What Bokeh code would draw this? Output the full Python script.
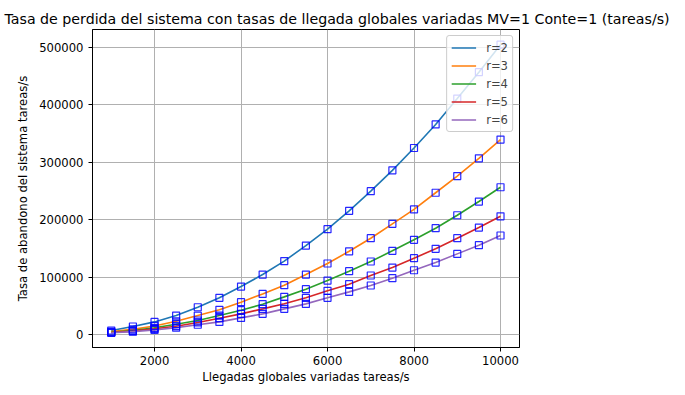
from bokeh.plotting import figure
from bokeh.models import Range1d, FixedTicker, BasicTickFormatter, Legend, LegendItem
from bokeh.embed import file_html
from bokeh.resources import INLINE

x_vals = [1000, 1500, 2000, 2500, 3000, 3500, 4000, 4500, 5000, 5500,
          6000, 6500, 7000, 7500, 8000, 8500, 9000, 9500, 10000]

r2 = [7000, 14000, 22000, 33000, 47500, 64000, 83600, 104500, 128000, 155000,
      183500, 215500, 249700, 286000, 325000, 366000, 411000, 457000, 505000]
r3 = [5000, 9000, 15000, 23000, 33000, 43000, 56300, 70800, 86000, 104500,
      123700, 145000, 167800, 192800, 218000, 247000, 276000, 307000, 339700]
r4 = [4000, 7000, 11700, 18000, 24400, 33000, 42400, 52800, 65600, 79000,
      94000, 110300, 127200, 145800, 165000, 185200, 207800, 231700, 256600]
r5 = [3500, 6000, 10000, 14500, 21000, 28500, 36000, 44700, 53500, 64000,
      76100, 87700, 102800, 116700, 133000, 149300, 167800, 186400, 206000]
r6 = [3000, 5000, 8000, 12000, 17000, 22000, 29000, 36000, 44700, 53400,
      64000, 74300, 85400, 98100, 112000, 125400, 140500, 155600, 172500]

series = [("r=2", r2, "#1f77b4"), ("r=3", r3, "#ff7f0e"), ("r=4", r4, "#2ca02c"),
          ("r=5", r5, "#d62728"), ("r=6", r6, "#9467bd")]

title_text = "Tasa de perdida del sistema con tasas de llegada globales variadas MV=1 Conte=1 (tareas/s)"
x_label = "Llegadas globales variadas tareas/s"
y_label = "Tasa de abandono del sistema tareas/s"
x_ticks = [2000, 4000, 6000, 8000, 10000]
y_ticks = [0, 100000, 200000, 300000, 400000, 500000]

FONT = "DejaVu Sans"
FS = "11.6px"

p = figure(width=685, height=395, output_backend="svg", toolbar_location=None,
           x_range=Range1d(566, 10439), y_range=Range1d(-22600, 531400),
           min_border_left=92, min_border_right=166, min_border_top=29,
           min_border_bottom=48)

p.title.text = title_text
p.title.text_font = FONT
p.title.text_font_size = "14.2px"
p.title.text_font_style = "normal"
p.title.align = "left"
p.title.offset = -88
p.title.standoff = 6
p.title.text_color = "black"

p.outline_line_color = "black"
p.outline_line_width = 1

for ax in (p.xaxis[0], p.yaxis[0]):
    ax.axis_label_text_font = FONT
    ax.axis_label_text_font_size = FS
    ax.axis_label_text_font_style = "normal"
    ax.axis_label_text_color = "black"
    ax.major_label_text_font = FONT
    ax.major_label_text_font_size = FS
    ax.major_label_text_color = "black"
    ax.minor_tick_line_color = None
    ax.major_tick_out = 4
    ax.major_tick_in = 0
    ax.major_tick_line_color = "black"
    ax.axis_line_color = "black"

p.xaxis.axis_label = x_label
p.yaxis.axis_label = y_label
p.xaxis.ticker = FixedTicker(ticks=x_ticks)
p.yaxis.ticker = FixedTicker(ticks=y_ticks)
p.yaxis.formatter = BasicTickFormatter(use_scientific=False)
p.xaxis.axis_label_standoff = 2
p.yaxis.axis_label_standoff = 6
p.xaxis.major_label_standoff = 4
p.yaxis.major_label_standoff = 5

p.xgrid.grid_line_color = "#b0b0b0"
p.ygrid.grid_line_color = "#b0b0b0"
p.xgrid.grid_line_width = 1
p.ygrid.grid_line_width = 1
p.xgrid.ticker = FixedTicker(ticks=x_ticks)
p.ygrid.ticker = FixedTicker(ticks=y_ticks)

items = []
for name, vals, color in series:
    ln = p.line(x_vals, vals, line_color=color, line_width=1.6)
    items.append(LegendItem(label=name, renderers=[ln]))
for name, vals, color in series:
    p.scatter(x_vals, vals, marker="square", size=7, fill_color=None,
              line_color="blue", line_width=1.2, line_alpha=0.85)

legend = Legend(items=items, location="top_right")
legend.label_text_font = FONT
legend.label_text_font_size = FS
legend.background_fill_color = "white"
legend.background_fill_alpha = 0.8
legend.border_line_color = "#cccccc"
legend.border_line_alpha = 1
legend.border_radius = 3
legend.glyph_width = 25
legend.glyph_height = 15
legend.spacing = 3
legend.padding = 4
legend.margin = 6
legend.label_standoff = 10
legend.label_height = 15
p.add_layout(legend)

open("out.html", "w").write(file_html(p, INLINE))
